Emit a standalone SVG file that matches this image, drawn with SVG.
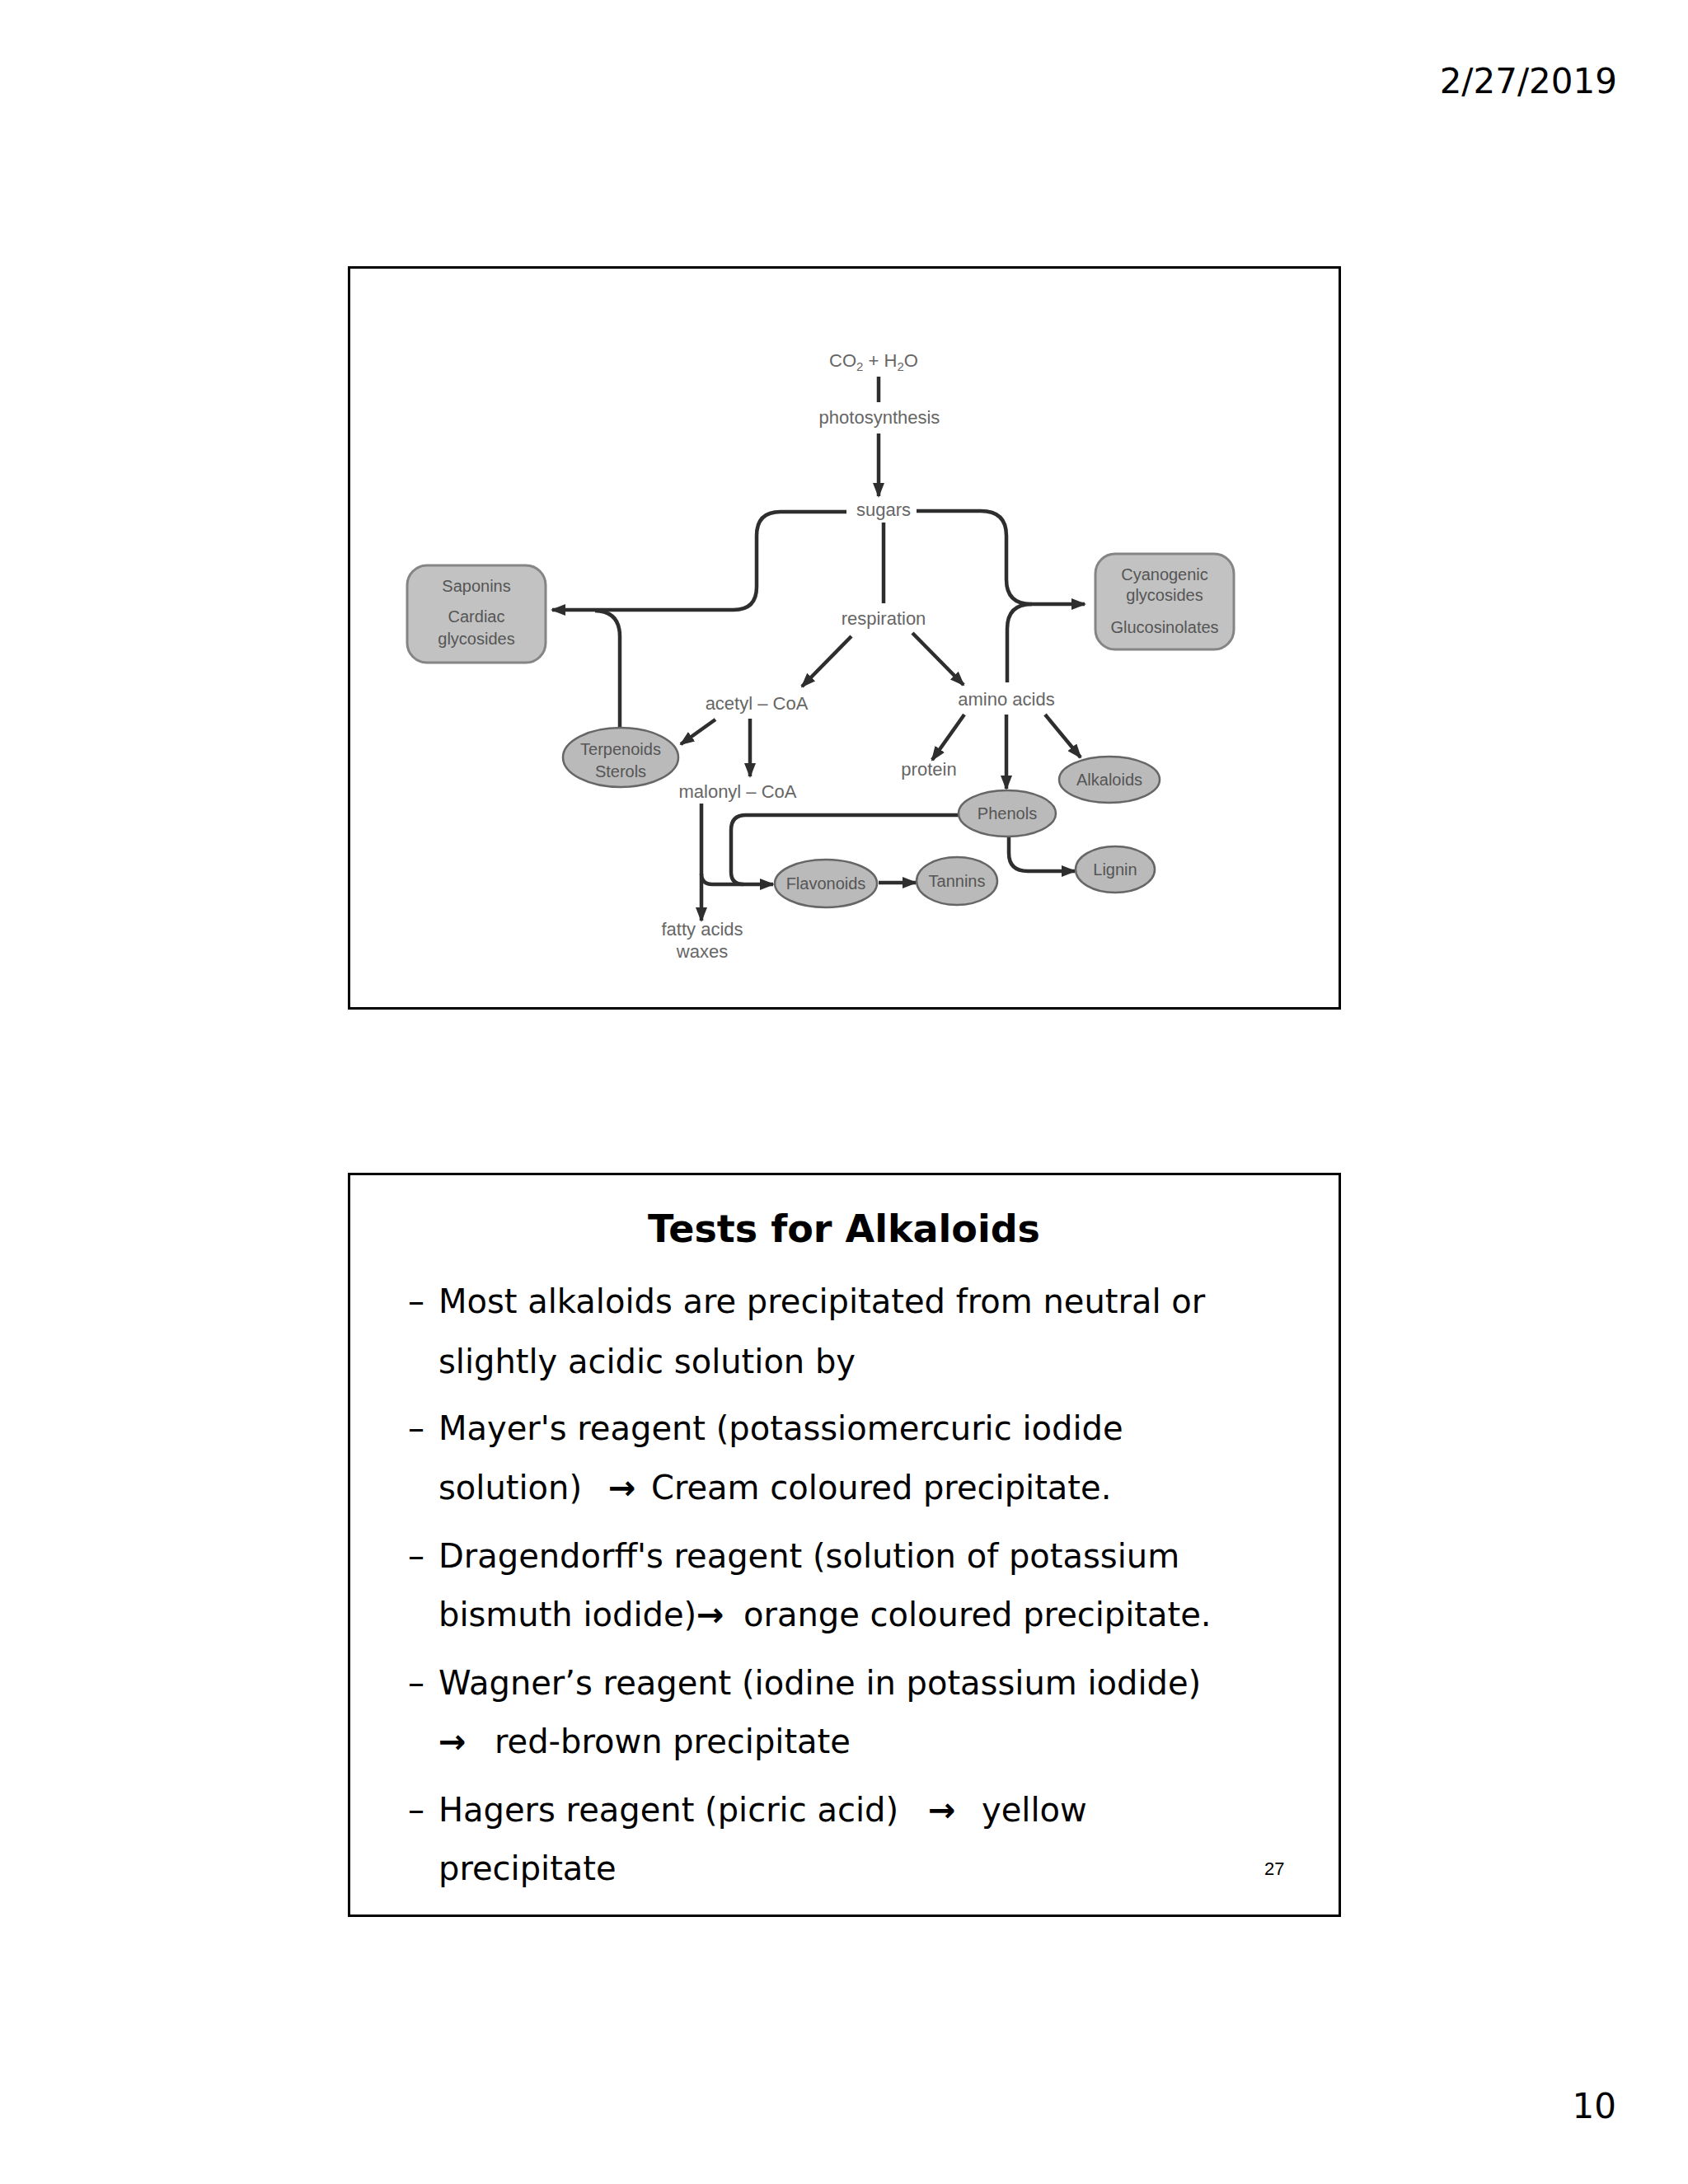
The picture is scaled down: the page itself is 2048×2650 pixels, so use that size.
<svg xmlns="http://www.w3.org/2000/svg" width="2048" height="2650" viewBox="0 0 2048 2650">
<style>
.hdr{font-family:"DejaVu Sans",Verdana,sans-serif;font-size:42px;fill:#000}
.frame{fill:none;stroke:#000;stroke-width:3}
.lbl{font-family:"Liberation Sans",Arial,sans-serif;font-size:22px;fill:#666;text-anchor:middle}
.nt{font-family:"Liberation Sans",Arial,sans-serif;font-size:20px;fill:#555;text-anchor:middle}
.box{fill:#c2c2c2;stroke:#858585;stroke-width:3}
.ell{fill:#bababa;stroke:#666;stroke-width:2.5}
.ln{fill:none;stroke:#2e2e2e;stroke-width:4.5}
.arr{fill:none;stroke:#2e2e2e;stroke-width:4.5;marker-end:url(#ah)}
.title{font-family:"DejaVu Sans",Verdana,sans-serif;font-size:46px;font-weight:bold;fill:#000;text-anchor:middle}
.body{font-family:"DejaVu Sans",Verdana,sans-serif;font-size:40px;fill:#000}
.ar{font-weight:bold}
.pg{font-family:"Liberation Sans",Arial,sans-serif;font-size:22px;fill:#000}
</style>
<defs>
<marker id="ah" markerUnits="userSpaceOnUse" viewBox="0 0 18 14" markerWidth="18" markerHeight="14" refX="16" refY="7" orient="auto">
<path d="M0,0 L18,7 L0,14 z" fill="#2e2e2e"/>
</marker>
</defs>
<rect width="2048" height="2650" fill="#fff"/>
<text class="hdr" x="1962" y="113" text-anchor="end">2/27/2019</text>
<text class="hdr" x="1961" y="2570" text-anchor="end">10</text>

<g id="slide-top">
<rect class="frame" x="423.5" y="324.5" width="1202" height="899"/>
</g>

<g id="connectors">
<path class="ln" d="M1066,457 L1066,488"/>
<path class="arr" d="M1066,526 L1066,602"/>
<path class="arr" d="M1027,621 L947,621 Q918,621 918,650 L918,712 Q918,740 890,740 L670,740"/>
<path class="ln" d="M752,883 L752,772 Q752,742 722,741"/>
<path class="arr" d="M1112,620 L1190,620 Q1221,620 1221,650 L1221,703 Q1221,733 1251,733 L1316,733"/>
<path class="ln" d="M1222,828 L1222,763 Q1222,733 1252,733"/>
<path class="ln" d="M1072,634 L1072,732"/>
<path class="arr" d="M1033,772 L973,833"/>
<path class="arr" d="M1107,768 L1169,831"/>
<path class="arr" d="M868,873 L826,903"/>
<path class="arr" d="M910,872 L910,942"/>
<path class="arr" d="M1170,867 L1131,922"/>
<path class="arr" d="M1221,867 L1221,957"/>
<path class="arr" d="M1268,867 L1311,919"/>
<path class="arr" d="M851,975 L851,1117"/>
<path class="arr" d="M851,1060 Q851,1073 864,1073 L938,1073"/>
<path class="ln" d="M1163,989 L905,989 Q887,989 887,1007 L887,1058 Q887,1073 902,1073"/>
<path class="arr" d="M1066,1071 L1111,1071"/>
<path class="arr" d="M1224,1016 L1224,1035 Q1224,1057 1247,1057 L1304,1057"/>
</g>

<g id="labels">
<text class="lbl" x="1060" y="445">CO<tspan font-size="15" dy="5">2</tspan><tspan dy="-5"> + H</tspan><tspan font-size="15" dy="5">2</tspan><tspan dy="-5">O</tspan></text>
<text class="lbl" x="1067" y="514">photosynthesis</text>
<text class="lbl" x="1072" y="626">sugars</text>
<text class="lbl" x="1072" y="758">respiration</text>
<text class="lbl" x="918" y="861">acetyl – CoA</text>
<text class="lbl" x="1221" y="856">amino acids</text>
<text class="lbl" x="895" y="968">malonyl – CoA</text>
<text class="lbl" x="1127" y="941">protein</text>
<text class="lbl" x="852" y="1135">fatty acids</text>
<text class="lbl" x="852" y="1162">waxes</text>
</g>

<g id="node-saponins">
<rect class="box" x="494" y="686" width="168" height="118" rx="24"/>
<text class="nt" x="578" y="718">Saponins</text>
<text class="nt" x="578" y="755">Cardiac</text>
<text class="nt" x="578" y="782">glycosides</text>
</g>
<g id="node-cyanogenic">
<rect class="box" x="1329" y="672" width="168" height="116" rx="24"/>
<text class="nt" x="1413" y="704">Cyanogenic</text>
<text class="nt" x="1413" y="729">glycosides</text>
<text class="nt" x="1413" y="768">Glucosinolates</text>
</g>
<g id="node-terpenoids">
<ellipse class="ell" cx="753" cy="919" rx="70" ry="36"/>
<text class="nt" x="753" y="916">Terpenoids</text>
<text class="nt" x="753" y="943">Sterols</text>
</g>
<g id="node-alkaloids">
<ellipse class="ell" cx="1346" cy="946" rx="61" ry="28"/>
<text class="nt" x="1346" y="953">Alkaloids</text>
</g>
<g id="node-phenols">
<ellipse class="ell" cx="1222" cy="987" rx="59" ry="28"/>
<text class="nt" x="1222" y="994">Phenols</text>
</g>
<g id="node-flavonoids">
<ellipse class="ell" cx="1002" cy="1072" rx="62" ry="29"/>
<text class="nt" x="1002" y="1079">Flavonoids</text>
</g>
<g id="node-tannins">
<ellipse class="ell" cx="1161" cy="1069" rx="49" ry="29"/>
<text class="nt" x="1161" y="1076">Tannins</text>
</g>
<g id="node-lignin">
<ellipse class="ell" cx="1353" cy="1055" rx="48" ry="28"/>
<text class="nt" x="1353" y="1062">Lignin</text>
</g>

<g id="slide-bottom">
<rect class="frame" x="423.5" y="1424.5" width="1202" height="900"/>
<text class="title" x="1024" y="1507">Tests for Alkaloids</text>
<text class="body" x="495" y="1593">–</text>
<text class="body" x="532" y="1593">Most alkaloids are precipitated from neutral or</text>
<text class="body" x="532" y="1666">slightly acidic solution by</text>
<text class="body" x="495" y="1747">–</text>
<text class="body" x="532" y="1747">Mayer's reagent (potassiomercuric iodide</text>
<text class="body" x="532" y="1819">solution)</text>
<text class="body ar" x="738" y="1819">→</text>
<text class="body" x="790" y="1819">Cream coloured precipitate.</text>
<text class="body" x="495" y="1902">–</text>
<text class="body" x="532" y="1902">Dragendorff's reagent (solution of potassium</text>
<text class="body" x="532" y="1973">bismuth iodide)</text>
<text class="body ar" x="845" y="1973">→</text>
<text class="body" x="902" y="1973">orange coloured precipitate.</text>
<text class="body" x="495" y="2056">–</text>
<text class="body" x="532" y="2056">Wagner’s reagent (iodine in potassium iodide)</text>
<text class="body ar" x="532" y="2127">→</text>
<text class="body" x="600" y="2127">red-brown precipitate</text>
<text class="body" x="495" y="2210">–</text>
<text class="body" x="532" y="2210">Hagers reagent (picric acid)</text>
<text class="body ar" x="1126" y="2210">→</text>
<text class="body" x="1191" y="2210">yellow</text>
<text class="body" x="532" y="2281">precipitate</text>
<text class="pg" x="1534" y="2275">27</text>
</g>
</svg>
